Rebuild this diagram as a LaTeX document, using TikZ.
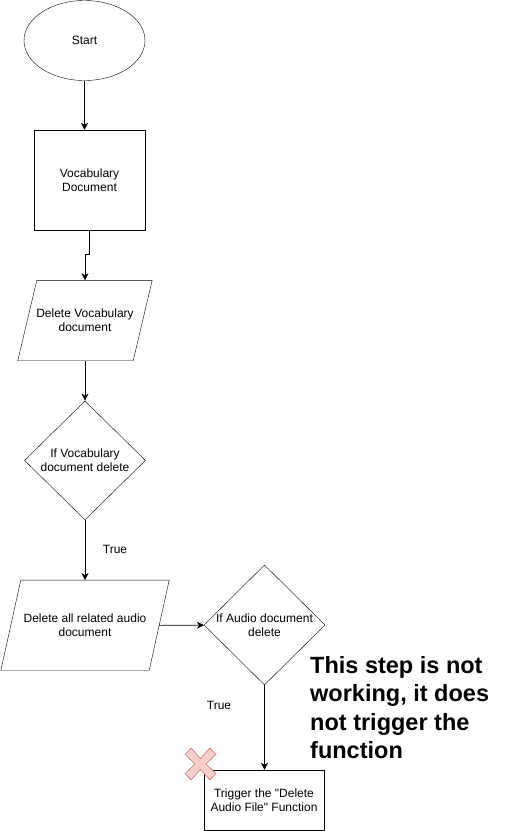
\documentclass[tikz,border=0pt]{standalone}
\usepackage{fontspec}
\setmainfont{Liberation Sans}[Ligatures=TeXOff]
\usepackage{tikz}
\usetikzlibrary{positioning,shapes.geometric,arrows.meta}
\definecolor{crossfill}{HTML}{F8CECC}
\definecolor{crossline}{HTML}{B85450}
% slanted outline round a plain node: name, slant
\newcommand{\ioframe}[2]{\draw ([xshift=#2]#1.north west) -- (#1.north east) -- ([xshift=-#2]#1.south east) -- (#1.south west) -- cycle;}

\begin{document}
\begin{tikzpicture}[x=1pt,y=-1pt,
      every node/.style={font=\fontsize{12}{14}\selectfont},
      startnode/.style={draw,ellipse,minimum width=121pt,minimum height=80pt},
      procbox/.style={draw,rectangle,align=center},
      iobox/.style={rectangle,align=center},
      decision/.style={draw,diamond,aspect=1,align=center,inner sep=0pt,minimum width=121pt,minimum height=119pt},
      arrow/.style={-{Stealth[length=7pt,width=7pt,inset=2pt]},semithick},
      label/.style={font=\fontsize{12}{14}\selectfont}]
      \useasboundingbox (0,0) rectangle (525,831);
      \node[startnode] (start) at (84.5,40.5) {Start};
      \node[procbox,minimum width=111pt,minimum height=100pt] (vocab) at (89.5,180) {Vocabulary\\Document};
      \node[iobox,minimum width=134pt,minimum height=80pt] (delvocab) at (85,320.5) {Delete Vocabulary\\document};
      \node[decision,below=40pt of delvocab] (chkvocab) {If Vocabulary\\document delete};
      \node[iobox,minimum width=168pt,minimum height=90pt,below=60pt of chkvocab] (delaudio) {Delete all related audio\\document};
      \node[decision,minimum height=120pt] (chkaudio) at (264.5,625) {If Audio document\\delete};
      \node[procbox,minimum width=120pt,minimum height=60pt] (trigger) at (264,800) {Trigger the "Delete\\Audio File" Function};
      \ioframe{delvocab}{19pt}
      \ioframe{delaudio}{20pt}
      % red cross on the trigger box
      \draw[crossline,fill=crossfill,line join=round,shift={(185,748)},x=31pt,y=-32pt]
        (0.2,0) -- (0.5,0.33) -- (0.8,0) -- (1,0.2) -- (0.68,0.5) -- (1,0.8) -- (0.8,1)
        -- (0.5,0.67) -- (0.2,1) -- (0,0.8) -- (0.32,0.5) -- (0,0.2) -- cycle;
      \node[label] (truevocab) at (115,549) {True};
      \node[label] (trueaudio) at (219,705) {True};
      \node[anchor=base west,align=left,inner sep=0pt,font=\bfseries\fontsize{23.5}{28.5}\selectfont] (note) at (310,758.5)
        {This step is not\\working, it does\\not trigger the\\function};
      \draw[arrow] (start) -- (vocab.north -| start);
      \draw[arrow] (vocab.south) -- ++(0,24) -| (delvocab.north);
      \draw[arrow] (delvocab) -- (chkvocab);
      \draw[arrow] (chkvocab) -- (delaudio);
      \draw[arrow] ([xshift=-10pt]delaudio.east) -- (chkaudio);
      \draw[arrow] (chkaudio) -- (trigger.north -| chkaudio);
    \end{tikzpicture}
\end{document}
